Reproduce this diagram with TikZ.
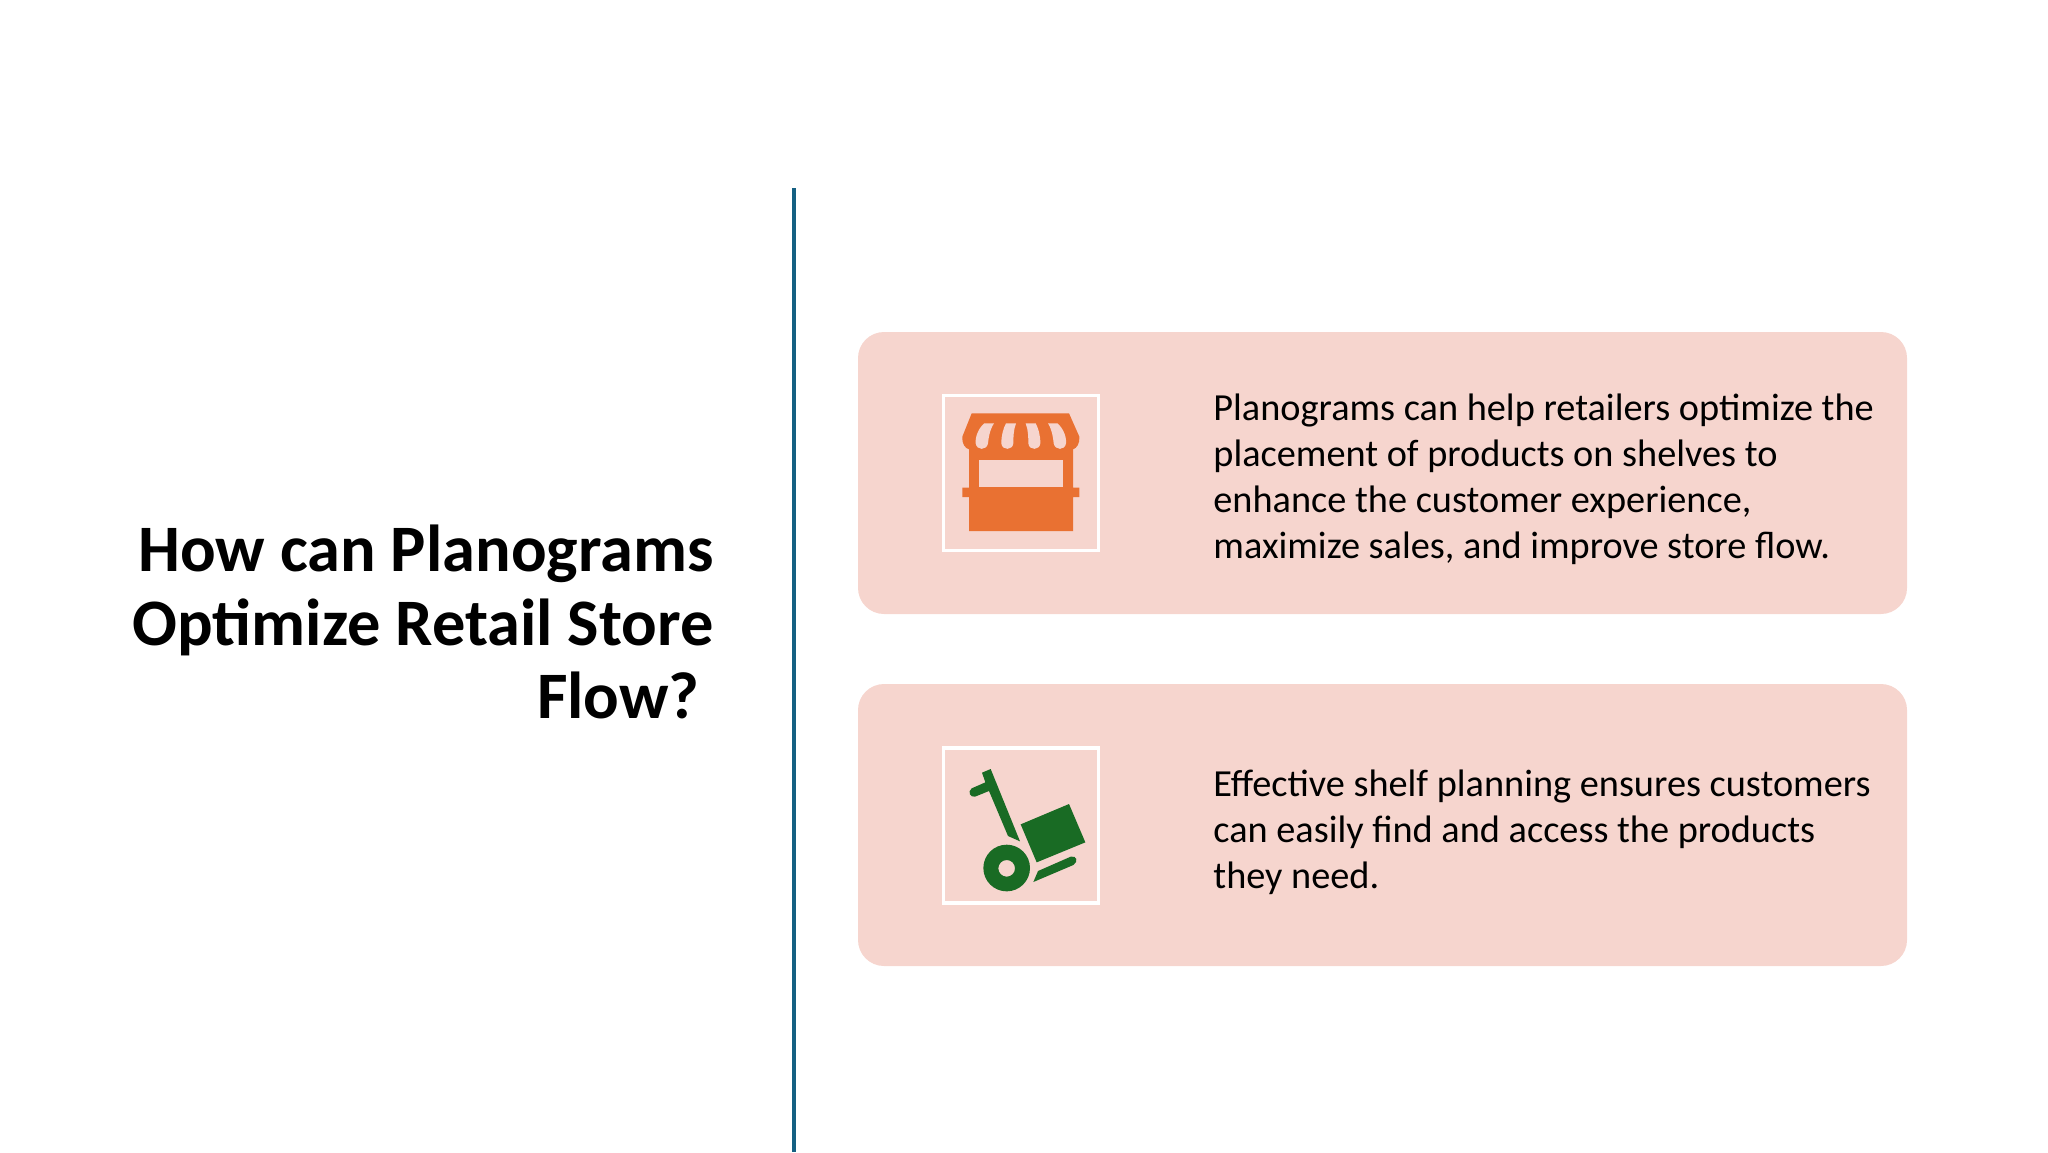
\documentclass[tikz,border=0pt]{standalone}
\usepackage{fontspec}
\setmainfont{Carlito}
\usetikzlibrary{positioning}
\definecolor{cardpink}{HTML}{F6D5CE}
\definecolor{ruleblue}{HTML}{156082}
\definecolor{storeorange}{HTML}{E97132}
\definecolor{cartgreen}{HTML}{196B24}

\begin{document}
\begin{tikzpicture}[x=0.5pt, y=-0.5pt,
            card/.style={fill=cardpink, rounded corners=13pt, minimum width=524.5pt, minimum height=141pt, inner sep=0pt},
            iconbox/.style={draw=white, line width=1.6pt, minimum width=77.5pt, minimum height=77.5pt, inner sep=0pt},
            cardtext/.style={font=\fontsize{19.15}{23.05}\selectfont, align=left, anchor=west, inner sep=0pt},
            icon scale/.style={x=0.16667pt, y=-0.16667pt}]

            \useasboundingbox (0,0) rectangle (2048,1152);

            % Title
            \node[font=\fontsize{33.2}{36.6}\selectfont\bfseries, align=right, anchor=east, inner sep=0pt] (title) at (714,622)
                {How can Planograms\\Optimize Retail Store\\Flow?\rule{7pt}{0pt}};

            % Divider
            \coordinate (ruletop) at (794,188);
            \coordinate (rulebottom) at (794,1152);
            \draw[ruleblue, line width=2pt] (ruletop) -- (rulebottom);

            % Cards
            \node[card] (topcard) at (1382.5,473) {};
            \node[card] (lowcard) at (1382.5,825) {};

            % Icon frames
            \node[iconbox] (storebox) at (1021,473) {};
            \node[iconbox] (cartbox) at (1021,825.5) {};

            % Card texts
            \node[cardtext] (toptext) at (1213,479.5)
                {Planograms can help retailers optimize the\\placement of products on shelves to\\enhance the customer experience,\\maximize sales, and improve store flow.};
            \node[cardtext] (lowtext) at (1213,832)
                {Effective shelf planning ensures customers\\can easily find and access the products\\they need.};

            % Store icon
            \begin{scope}[shift={(920,380)}, icon scale]
                \fill[storeorange] (155,100) -- (447,100) -- (478,170)
                    .. controls (480,190) and (470,205) .. (459,208) -- (459,323) -- (478,323) -- (478,351)
                    -- (459,351) -- (459,453) -- (147,453) -- (147,351) -- (127,351) -- (127,323) -- (147,323)
                    -- (147,208) .. controls (135,205) and (125,190) .. (127,170) -- cycle;
                \fill[cardpink] (176,241) rectangle (429,322);
                \fill[cardpink] (193,130) -- (222,130) .. controls (208,150) and (205,180) .. (204,190)
                    .. controls (200,212) and (170,212) .. (167,190) .. controls (165,165) and (180,140) .. (193,130) -- cycle;
                \fill[cardpink] (258,130) -- (288,130) .. controls (280,150) and (280,175) .. (280,190)
                    .. controls (278,212) and (246,212) .. (244,190) .. controls (244,165) and (250,145) .. (258,130) -- cycle;
                \fill[cardpink] (317,130) -- (347,130) .. controls (355,145) and (361,165) .. (361,190)
                    .. controls (359,212) and (327,212) .. (325,190) .. controls (325,175) and (325,150) .. (317,130) -- cycle;
                \fill[cardpink] (384,130) -- (412,130) .. controls (425,140) and (440,165) .. (438,190)
                    .. controls (435,212) and (405,212) .. (401,190) .. controls (400,180) and (397,150) .. (384,130) -- cycle;
            \end{scope}

            % Hand truck icon
            \begin{scope}[shift={(920,735)}, icon scale]
                \fill[cartgreen] (186,113) -- (212,102) -- (300,319) -- (264,303) -- (207,168) -- (165,185)
                    .. controls (150,188) and (142,170) .. (155,160) -- (196,142) -- cycle;
                \fill[cartgreen] (302,268) -- (447,207) -- (496,322) -- (350,382) -- cycle;
                \fill[cartgreen] (354,408) -- (452,365) .. controls (470,360) and (476,380) .. (460,390)
                    -- (340,441) -- cycle;
                \fill[cartgreen, even odd rule] (260,399) circle[radius=70*0.16667pt] (260,400) circle[radius=25*0.16667pt];
            \end{scope}
        \end{tikzpicture}
\end{document}
